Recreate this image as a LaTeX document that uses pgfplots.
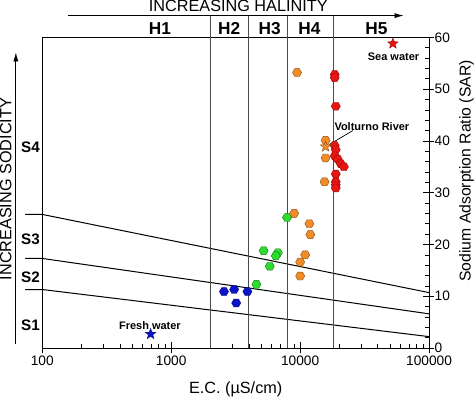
\documentclass[border=0pt]{standalone}
\usepackage{pgfplots}
\pgfplotsset{compat=1.18}
\usepackage{fontspec}
\setmainfont{Liberation Sans}
\usetikzlibrary{arrows.meta}
\definecolor{cred}{RGB}{232,22,18}
\definecolor{credd}{RGB}{150,10,10}
\definecolor{corange}{RGB}{242,140,40}
\definecolor{corangd}{RGB}{140,75,20}
\definecolor{cgreen}{RGB}{45,220,45}
\definecolor{cgreend}{RGB}{20,120,20}
\definecolor{cblue}{RGB}{10,20,200}
\definecolor{cblued}{RGB}{10,10,120}
\pgfdeclareplotmark{hex}{%
\pgfpathmoveto{\pgfpointpolar{0}{\pgfplotmarksize}}%
\pgfpathlineto{\pgfpointpolar{60}{\pgfplotmarksize}}%
\pgfpathlineto{\pgfpointpolar{120}{\pgfplotmarksize}}%
\pgfpathlineto{\pgfpointpolar{180}{\pgfplotmarksize}}%
\pgfpathlineto{\pgfpointpolar{240}{\pgfplotmarksize}}%
\pgfpathlineto{\pgfpointpolar{300}{\pgfplotmarksize}}%
\pgfpathclose\pgfusepathqfillstroke}
\pgfdeclareplotmark{fstar}{%
\pgfpathmoveto{\pgfpointpolar{90}{\pgfplotmarksize}}%
\pgfpathlineto{\pgfpointpolar{126}{0.42\pgfplotmarksize}}%
\pgfpathlineto{\pgfpointpolar{162}{\pgfplotmarksize}}%
\pgfpathlineto{\pgfpointpolar{198}{0.42\pgfplotmarksize}}%
\pgfpathlineto{\pgfpointpolar{234}{\pgfplotmarksize}}%
\pgfpathlineto{\pgfpointpolar{270}{0.42\pgfplotmarksize}}%
\pgfpathlineto{\pgfpointpolar{306}{\pgfplotmarksize}}%
\pgfpathlineto{\pgfpointpolar{342}{0.42\pgfplotmarksize}}%
\pgfpathlineto{\pgfpointpolar{18}{\pgfplotmarksize}}%
\pgfpathlineto{\pgfpointpolar{54}{0.42\pgfplotmarksize}}%
\pgfpathclose\pgfusepathqfillstroke}
\begin{document}
\begin{tikzpicture}
\begin{axis}[
 scale only axis, width=381pt, height=306pt,
 xmode=log, xmin=100, xmax=100000, ymin=0, ymax=60,
 clip=false,
 axis line style={black, line width=0.8pt},
 xtick={100,1000,10000,100000}, xticklabels={100,1000,10000,100000},
 xtick pos=bottom, ytick pos=right, yticklabel pos=right,
 ytick={0,10,20,30,40,50,60}, minor y tick num=4,
 tick align=inside,
 major tick length=6pt, minor tick length=4pt,
 extra x ticks={100,1000,10000,100000},
 extra x tick labels={\empty,\empty,\empty,\empty},
 extra y ticks={0,10,20,30,40,50,60},
 extra y tick labels={\empty,\empty,\empty,\empty,\empty,\empty,\empty},
 extra tick style={tick align=outside, major tick length=5pt},
 tick style={black, line width=0.6pt},
 ticklabel style={font=\fontsize{13.5}{16}\selectfont},
 xticklabel style={yshift=-4pt},
 yticklabel style={xshift=2pt},
 /pgf/number format/assume math mode=true,
]
% sodicity boundary lines
\addplot[black, line width=1pt] coordinates {(73.5,25.8) (100,25.8) (100000,10.7)};
\addplot[black, line width=1pt] coordinates {(73.5,17.3) (100,17.3) (100000,6.6)};
\addplot[black, line width=1pt] coordinates {(73.5,11.3) (100,11.3) (100000,2.2)};
% halinity boundary lines
\addplot[black!70, line width=0.8pt] coordinates {(2000,0) (2000,64.2)};
\addplot[black!70, line width=0.8pt] coordinates {(4000,0) (4000,64.2)};
\addplot[black!70, line width=0.8pt] coordinates {(8000,0) (8000,64.2)};
\addplot[black!70, line width=0.8pt] coordinates {(18000,0) (18000,64.2)};
% Volturno leader line
\addplot[black, line width=0.7pt] coordinates {(16830,39.3) (25640,42.0)};
% data
\addplot[only marks, mark=hex, mark size=4.5pt, fill=cblue, draw=cblued, line width=0.4pt] coordinates {
(2566,10.9) (3076,11.3) (3898,10.9) (3193,8.7)};
\addplot[only marks, mark=hex, mark size=4.5pt, fill=cgreen, draw=cgreend, line width=0.4pt] coordinates {
(7910,25.2) (5210,18.8) (6710,18.4) (6470,17.8) (5810,15.8) (4580,12.3)};
\addplot[only marks, mark=hex, mark size=4.5pt, fill=corange, draw=corangd, line width=0.4pt] coordinates {
(9460,53.2) (15740,40.1) (15740,36.7) (15460,32.1) (8980,26.0) (11780,24.0) (11990,21.9) (10940,18.0) (10000,16.6) (10000,13.9)};
\addplot[only marks, mark=hex, mark size=4.5pt, fill=cred, draw=credd, line width=0.4pt] coordinates {
(18530,52.8) (18530,52.2) (18880,46.7) (18530,39.1) (18880,38.3) (18530,37.1) (19540,36.5) (20640,35.6) (21820,35.0) (18880,33.6) (18880,32.1) (18880,31.5) (18880,30.9)};
% stars
\addplot[only marks, mark=fstar, mark size=5.5pt, fill=corange, draw=corangd, line width=0.4pt] coordinates {(15740,38.9)};
\addplot[only marks, mark=fstar, mark size=5.5pt, fill=cred, draw=credd, line width=0.4pt] coordinates {(52360,58.8)};
\addplot[only marks, mark=fstar, mark size=5.5pt, fill=cblue, draw=cblued, line width=0.4pt] coordinates {(692,2.7)};
% annotations
\node[font=\fontsize{10.8}{12}\selectfont\bfseries] at (axis cs:52970,56.3) {Sea water};
\node[font=\fontsize{10.8}{12}\selectfont\bfseries] at (axis cs:684,4.4) {Fresh water};
\node[font=\fontsize{10.8}{12}\selectfont\bfseries, anchor=west, inner sep=0pt] at (axis cs:18400,42.8) {Volturno River};
% H labels
\node[font=\fontsize{17}{20}\selectfont\bfseries] at (axis cs:818,61.7) {H1};
\node[font=\fontsize{17}{20}\selectfont\bfseries] at (axis cs:2812,61.7) {H2};
\node[font=\fontsize{17}{20}\selectfont\bfseries] at (axis cs:5808,61.7) {H3};
\node[font=\fontsize{17}{20}\selectfont\bfseries] at (axis cs:11780,61.7) {H4};
\node[font=\fontsize{17}{20}\selectfont\bfseries] at (axis cs:39000,61.7) {H5};
% S labels
\node[font=\fontsize{15}{18}\selectfont\bfseries, anchor=east, inner sep=0pt] at ([xshift=-2.3pt]axis cs:100,38.8) {S4};
\node[font=\fontsize{15}{18}\selectfont\bfseries, anchor=east, inner sep=0pt] at ([xshift=-2.3pt]axis cs:100,21.0) {S3};
\node[font=\fontsize{15}{18}\selectfont\bfseries, anchor=east, inner sep=0pt] at ([xshift=-2.3pt]axis cs:100,13.6) {S2};
\node[font=\fontsize{15}{18}\selectfont\bfseries, anchor=east, inner sep=0pt] at ([xshift=-2.3pt]axis cs:100,4.4) {S1};
% arrows
\draw[-{Latex[length=9pt,width=5pt]}, line width=0.8pt] (axis cs:157,64.2) -- (axis cs:63500,64.2);
\draw[-{Latex[length=9pt,width=5pt]}, line width=0.8pt] (axis cs:62.4,0.8) -- (axis cs:62.4,57.1);
\node[font=\fontsize{16}{19}\selectfont, inner sep=0pt] at (axis cs:3311,66.1) {INCREASING HALINITY};
\node[font=\fontsize{16}{19}\selectfont, inner sep=0pt, rotate=90] at (axis cs:52.1,30.7) {INCREASING SODICITY};
% axis labels
\node[font=\fontsize{16}{19}\selectfont] at ([yshift=-41pt]rel axis cs:0.5,0) {E.C. (µS/cm)};
\node[font=\fontsize{15.5}{18}\selectfont, rotate=90, inner sep=0pt] at (axis cs:195600,34.2) {Sodium Adsorption Ratio (SAR)};
\end{axis}
\end{tikzpicture}
\end{document}
